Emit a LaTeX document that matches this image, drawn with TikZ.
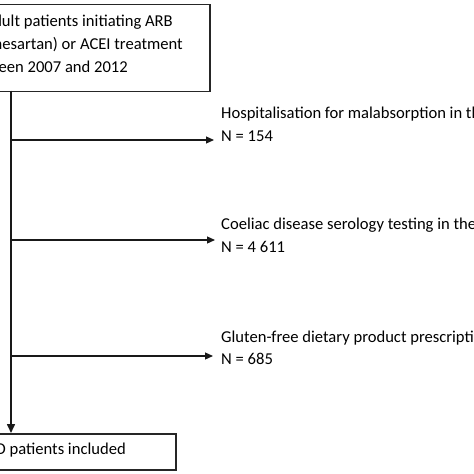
\documentclass[tikz,border=0pt]{standalone}
\usepackage{fontspec}
\setmainfont{Carlito}
\usetikzlibrary{arrows.meta}
\begin{document}
\begin{tikzpicture}[x=1pt,y=-1pt,
  box/.style={draw=black!85, line width=1.6pt, inner sep=0pt},
  txt/.style={inner sep=0pt, font=\fontsize{16.6}{23}\selectfont},
  flow/.style={draw=black!90, line width=1.6pt, -{Triangle[length=9pt,width=8pt]}},
  excl/.style={draw=black!90, line width=1.2pt, -{Triangle[length=8pt,width=7pt]}}]
\useasboundingbox (0,0) rectangle (474,474);
\clip (0,0) rectangle (474,474);
% boxes
\node[box, anchor=north east, minimum width=261pt, minimum height=87pt] (top) at (211,3.5) {};
\node[box, anchor=north east, minimum width=227pt, minimum height=36pt] (bot) at (177,433) {};
% top box text
\node[txt, anchor=base east] (t1) at (173,26) {Adult patients initiating ARB};
\node[txt, anchor=base east] (t2) at (183,49) {(olmesartan) or ACEI treatment};
\node[txt, anchor=base east] (t3) at (128,72) {between 2007 and 2012};
% bottom box text
\node[txt, anchor=base east] (b1) at (126,454) {D patients included};
% exclusion texts
\node[txt, anchor=base west] (e1a) at (221,118) {Hospitalisation for malabsorption in the};
\node[txt, anchor=base west] (e1b) at (221,141) {N = 154};
\node[txt, anchor=base west] (e2a) at (221,229) {Coeliac disease serology testing in the};
\node[txt, anchor=base west] (e2b) at (221,252) {N = 4 611};
\node[txt, anchor=base west] (e3a) at (221,342) {Gluten-free dietary product prescription};
\node[txt, anchor=base west] (e3b) at (221,364) {N = 685};
% connectors
\coordinate (vtop) at (11,90.5);
\coordinate (vbot) at (11,433);
\coordinate (j1) at (11,140);
\coordinate (j2) at (11,240);
\coordinate (j3) at (11,356);
\coordinate (a1) at (214,140);
\coordinate (a2) at (215,240);
\coordinate (a3) at (213,356);
\draw[flow] (vtop) -- (vbot);
\draw[excl] (j1) -- (a1);
\draw[excl] (j2) -- (a2);
\draw[excl] (j3) -- (a3);
\end{tikzpicture}
\end{document}
